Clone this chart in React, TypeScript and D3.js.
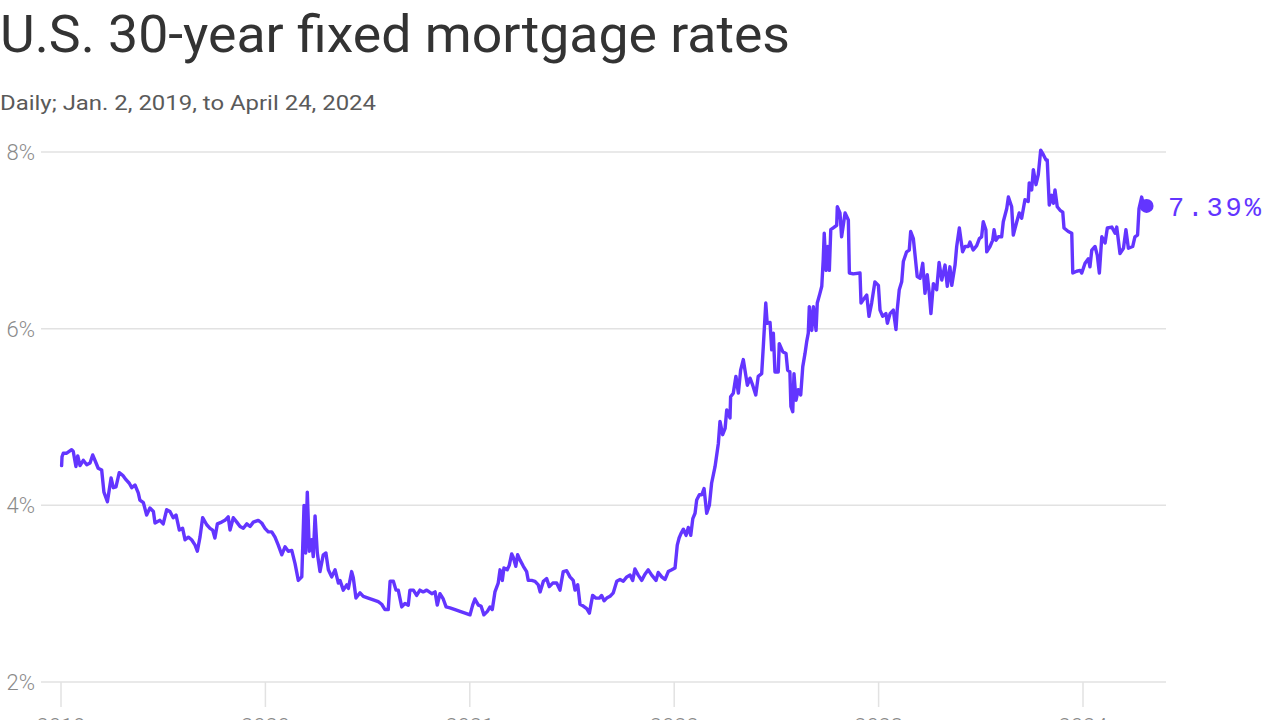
import React from "react";
import * as d3 from "d3";

const TITLE = "U.S. 30-year fixed mortgage rates";
const SUBTITLE = "Daily; Jan. 2, 2019, to April 24, 2024";

// time as decimal years
const years: number[] = [
  2019.003, 2019.005, 2019.011, 2019.028, 2019.052, 2019.06, 2019.073, 2019.082, 2019.093, 2019.109,
  2019.126, 2019.142, 2019.155, 2019.166, 2019.182, 2019.199, 2019.21, 2019.227, 2019.245, 2019.256,
  2019.269, 2019.285, 2019.302, 2019.318, 2019.334, 2019.346, 2019.362, 2019.378, 2019.386, 2019.403,
  2019.419, 2019.435, 2019.452, 2019.46, 2019.484, 2019.5, 2019.517, 2019.533, 2019.549, 2019.563,
  2019.579, 2019.595, 2019.607, 2019.623, 2019.639, 2019.656, 2019.667, 2019.68, 2019.693, 2019.713,
  2019.729, 2019.742, 2019.753, 2019.765, 2019.786, 2019.802, 2019.818, 2019.827, 2019.843, 2019.86,
  2019.876, 2019.892, 2019.909, 2019.925, 2019.941, 2019.965, 2019.982, 2019.998, 2020.014, 2020.031,
  2020.047, 2020.063, 2020.08, 2020.096, 2020.112, 2020.129, 2020.145, 2020.161, 2020.178, 2020.189,
  2020.197, 2020.205, 2020.215, 2020.227, 2020.234, 2020.243, 2020.254, 2020.267, 2020.283, 2020.296,
  2020.308, 2020.324, 2020.341, 2020.357, 2020.365, 2020.381, 2020.398, 2020.406, 2020.422, 2020.43,
  2020.443, 2020.463, 2020.479, 2020.503, 2020.528, 2020.552, 2020.569, 2020.585, 2020.601, 2020.61,
  2020.626, 2020.639, 2020.65, 2020.667, 2020.683, 2020.699, 2020.707, 2020.724, 2020.74, 2020.756,
  2020.772, 2020.789, 2020.814, 2020.83, 2020.841, 2020.854, 2020.87, 2020.884, 2020.903, 2020.928,
  2020.952, 2020.977, 2021.001, 2021.014, 2021.025, 2021.042, 2021.055, 2021.069, 2021.086, 2021.099,
  2021.11, 2021.123, 2021.139, 2021.148, 2021.159, 2021.167, 2021.183, 2021.193, 2021.205, 2021.213,
  2021.225, 2021.234, 2021.246, 2021.262, 2021.278, 2021.286, 2021.303, 2021.319, 2021.335, 2021.344,
  2021.36, 2021.376, 2021.389, 2021.406, 2021.425, 2021.441, 2021.457, 2021.474, 2021.49, 2021.506,
  2021.515, 2021.528, 2021.539, 2021.555, 2021.572, 2021.585, 2021.601, 2021.617, 2021.634, 2021.645,
  2021.657, 2021.67, 2021.686, 2021.702, 2021.719, 2021.735, 2021.751, 2021.768, 2021.784, 2021.797,
  2021.808, 2021.824, 2021.841, 2021.857, 2021.873, 2021.89, 2021.911, 2021.922, 2021.939, 2021.955,
  2021.971, 2021.988, 2022.004, 2022.015, 2022.024, 2022.033, 2022.045, 2022.058, 2022.069, 2022.081,
  2022.091, 2022.102, 2022.11, 2022.123, 2022.135, 2022.146, 2022.159, 2022.172, 2022.183, 2022.2,
  2022.216, 2022.224, 2022.237, 2022.249, 2022.257, 2022.273, 2022.276, 2022.289, 2022.302, 2022.314,
  2022.325, 2022.338, 2022.358, 2022.371, 2022.384, 2022.399, 2022.411, 2022.428, 2022.436, 2022.448,
  2022.455, 2022.469, 2022.477, 2022.485, 2022.493, 2022.509, 2022.514, 2022.531, 2022.547, 2022.555,
  2022.566, 2022.571, 2022.58, 2022.586, 2022.596, 2022.607, 2022.619, 2022.629, 2022.64, 2022.648,
  2022.656, 2022.661, 2022.673, 2022.681, 2022.694, 2022.7, 2022.713, 2022.722, 2022.729, 2022.734,
  2022.743, 2022.751, 2022.759, 2022.766, 2022.778, 2022.795, 2022.798, 2022.811, 2022.819, 2022.836,
  2022.844, 2022.852, 2022.857, 2022.876, 2022.909, 2022.914, 2022.929, 2022.942, 2022.953, 2022.966,
  2022.982, 2022.999, 2023.007, 2023.02, 2023.036, 2023.043, 2023.056, 2023.072, 2023.085, 2023.091,
  2023.101, 2023.113, 2023.121, 2023.137, 2023.15, 2023.157, 2023.17, 2023.189, 2023.203, 2023.216,
  2023.227, 2023.238, 2023.248, 2023.256, 2023.268, 2023.284, 2023.296, 2023.309, 2023.325, 2023.336,
  2023.349, 2023.358, 2023.374, 2023.382, 2023.395, 2023.411, 2023.423, 2023.439, 2023.447, 2023.463,
  2023.48, 2023.493, 2023.504, 2023.512, 2023.525, 2023.529, 2023.545, 2023.558, 2023.565, 2023.574,
  2023.586, 2023.602, 2023.61, 2023.627, 2023.635, 2023.651, 2023.659, 2023.676, 2023.688, 2023.7,
  2023.716, 2023.732, 2023.737, 2023.749, 2023.757, 2023.77, 2023.781, 2023.793, 2023.806, 2023.819,
  2023.825, 2023.835, 2023.847, 2023.855, 2023.863, 2023.874, 2023.888, 2023.901, 2023.907, 2023.928,
  2023.945, 2023.95, 2023.969, 2023.986, 2023.994, 2024.01, 2024.026, 2024.034, 2024.043, 2024.059,
  2024.07, 2024.08, 2024.092, 2024.108, 2024.119, 2024.141, 2024.157, 2024.165, 2024.181, 2024.198,
  2024.21, 2024.222, 2024.243, 2024.254, 2024.267, 2024.274, 2024.287, 2024.298, 2024.311,
];

// 30-year fixed rate, percent
const rates: number[] = [
  4.45, 4.55, 4.59, 4.59, 4.63, 4.61, 4.44, 4.56, 4.45, 4.51,
  4.46, 4.48, 4.57, 4.51, 4.42, 4.4, 4.15, 4.04, 4.31, 4.2,
  4.21, 4.37, 4.34, 4.29, 4.25, 4.2, 4.23, 4.14, 4.06, 4.03,
  3.89, 3.97, 3.93, 3.8, 3.83, 3.79, 3.95, 3.93, 3.86, 3.89,
  3.72, 3.74, 3.61, 3.64, 3.61, 3.55, 3.48, 3.64, 3.86, 3.78,
  3.74, 3.72, 3.63, 3.79, 3.81, 3.83, 3.87, 3.72, 3.86, 3.81,
  3.76, 3.74, 3.79, 3.76, 3.81, 3.83, 3.8, 3.74, 3.7, 3.7,
  3.64, 3.55, 3.44, 3.53, 3.48, 3.49, 3.34, 3.15, 3.19, 4.0,
  3.46, 4.15, 3.48, 3.61, 3.42, 3.88, 3.46, 3.25, 3.44, 3.46,
  3.27, 3.19, 3.27, 3.12, 3.15, 3.04, 3.1, 3.06, 3.25, 3.18,
  2.95, 3.01, 2.97, 2.95, 2.93, 2.91, 2.88, 2.82, 2.82, 3.14,
  3.14, 3.04, 3.04, 2.85, 2.89, 2.87, 3.04, 3.04, 2.98, 3.04,
  3.02, 3.04, 3.0, 3.02, 2.87, 3.0, 2.94, 2.85, 2.84, 2.82,
  2.8, 2.78, 2.76, 2.87, 2.94, 2.87, 2.86, 2.76, 2.8, 2.85,
  2.82, 3.02, 3.12, 3.27, 3.15, 3.29, 3.27, 3.32, 3.45, 3.41,
  3.31, 3.44, 3.38, 3.31, 3.25, 3.15, 3.15, 3.14, 3.1, 3.02,
  3.14, 3.17, 3.08, 3.12, 3.12, 3.04, 3.25, 3.26, 3.19, 3.15,
  3.04, 3.1, 2.88, 2.86, 2.83, 2.78, 2.98, 2.95, 2.95, 2.98,
  2.92, 2.95, 2.97, 3.01, 3.14, 3.16, 3.14, 3.19, 3.21, 3.15,
  3.28, 3.21, 3.15, 3.22, 3.27, 3.21, 3.15, 3.24, 3.19, 3.16,
  3.25, 3.27, 3.29, 3.55, 3.63, 3.68, 3.73, 3.66, 3.75, 3.66,
  3.85, 3.91, 4.06, 4.12, 4.12, 4.19, 3.91, 4.0, 4.25, 4.44,
  4.7, 4.95, 4.8, 4.87, 5.08, 4.99, 5.23, 5.27, 5.46, 5.27,
  5.53, 5.65, 5.36, 5.44, 5.36, 5.25, 5.46, 5.49, 5.8, 6.29,
  6.06, 6.07, 5.76, 5.95, 5.51, 5.51, 5.83, 5.74, 5.72, 5.53,
  5.51, 5.12, 5.06, 5.49, 5.19, 5.31, 5.25, 5.57, 5.72, 5.85,
  5.95, 6.25, 5.98, 6.25, 5.98, 6.29, 6.4, 6.48, 6.78, 7.08,
  6.66, 6.93, 6.66, 7.12, 7.14, 7.17, 7.38, 7.31, 7.04, 7.31,
  7.27, 7.23, 6.63, 6.62, 6.63, 6.29, 6.34, 6.38, 6.14, 6.29,
  6.53, 6.49, 6.21, 6.14, 6.17, 6.06, 6.17, 6.21, 5.99, 6.21,
  6.44, 6.53, 6.76, 6.87, 6.89, 7.1, 7.02, 6.59, 6.57, 6.74,
  6.4, 6.61, 6.4, 6.17, 6.51, 6.44, 6.75, 6.55, 6.72, 6.48,
  6.7, 6.49, 6.72, 6.93, 7.14, 6.87, 6.93, 6.93, 6.98, 6.89,
  6.94, 7.02, 7.04, 7.21, 7.12, 6.87, 6.93, 7.0, 7.12, 7.0,
  7.04, 7.04, 7.21, 7.36, 7.49, 7.38, 7.06, 7.21, 7.31, 7.25,
  7.46, 7.44, 7.65, 7.57, 7.8, 7.63, 7.74, 8.02, 7.97, 7.91,
  7.91, 7.4, 7.51, 7.42, 7.57, 7.38, 7.34, 7.32, 7.14, 7.1,
  7.08, 6.63, 6.65, 6.66, 6.63, 6.74, 6.79, 6.7, 6.89, 6.93,
  6.83, 6.63, 7.04, 6.97, 7.14, 7.15, 7.08, 7.15, 6.85, 6.91,
  7.12, 6.91, 6.93, 7.04, 7.06, 7.36, 7.49, 7.38, 7.39,
];

const yTicks: number[] = [2, 4, 6, 8];
const xTicks: number[] = [2019, 2020, 2021, 2022, 2023, 2024];
const lastLabel = "7.39%";

const W = 1280;
const H = 720;
const PURPLE = "#6335ff";

export default function App() {
  const x = d3.scaleLinear().domain([2019, 2024]).range([61, 1083]);
  const y = d3.scaleLinear().domain([2, 8]).range([682, 152]);
  const pts = years.map((t, i) => [t, rates[i]] as [number, number]);
  const line = d3
    .line<[number, number]>()
    .x((d) => x(d[0]))
    .y((d) => y(d[1]))
    .curve(d3.curveLinear);
  const last = pts[pts.length - 1];

  return (
    <svg
      width={W}
      height={H}
      style={{ position: "fixed", left: 0, top: 0, background: "#fff" }}
      fontFamily="Roboto, 'Noto Sans', sans-serif"
    >
      <text x={0} y={52} fontSize={52} fill="#333" textLength={790} lengthAdjust="spacingAndGlyphs">
        {TITLE}
      </text>
      <text x={0} y={110} fontSize={21} fill="#5a5a5a" textLength={376} lengthAdjust="spacingAndGlyphs">
        {SUBTITLE}
      </text>

      {yTicks.map((t) => (
        <g key={t}>
          <line x1={41} x2={1166} y1={y(t)} y2={y(t)} stroke="#e2e2e2" strokeWidth={1.5} />
          <text x={35} y={y(t)} dy="0.36em" textAnchor="end" fontSize={22} fontWeight={300} fill="#8a8a8a">
            {t}%
          </text>
        </g>
      ))}

      {xTicks.map((t) => (
        <g key={t}>
          <line x1={x(t)} x2={x(t)} y1={y(2)} y2={707} stroke="#e2e2e2" strokeWidth={1.5} />
          <text x={x(t)} y={734} textAnchor="middle" fontSize={22} fontWeight={300} fill="#8a8a8a">
            {t}
          </text>
        </g>
      ))}

      <path
        d={line(pts) || ""}
        fill="none"
        stroke={PURPLE}
        strokeWidth={3.4}
        strokeLinejoin="round"
        strokeLinecap="round"
      />
      <circle cx={x(last[0])} cy={y(last[1])} r={7} fill={PURPLE} />
      <text
        x={1168}
        y={y(last[1])}
        dy="0.36em"
        fontSize={27}
        fill={PURPLE}
        fontFamily="'Liberation Mono', 'DejaVu Sans Mono', monospace"
        letterSpacing={3}
      >
        {lastLabel}
      </text>
    </svg>
  );
}
